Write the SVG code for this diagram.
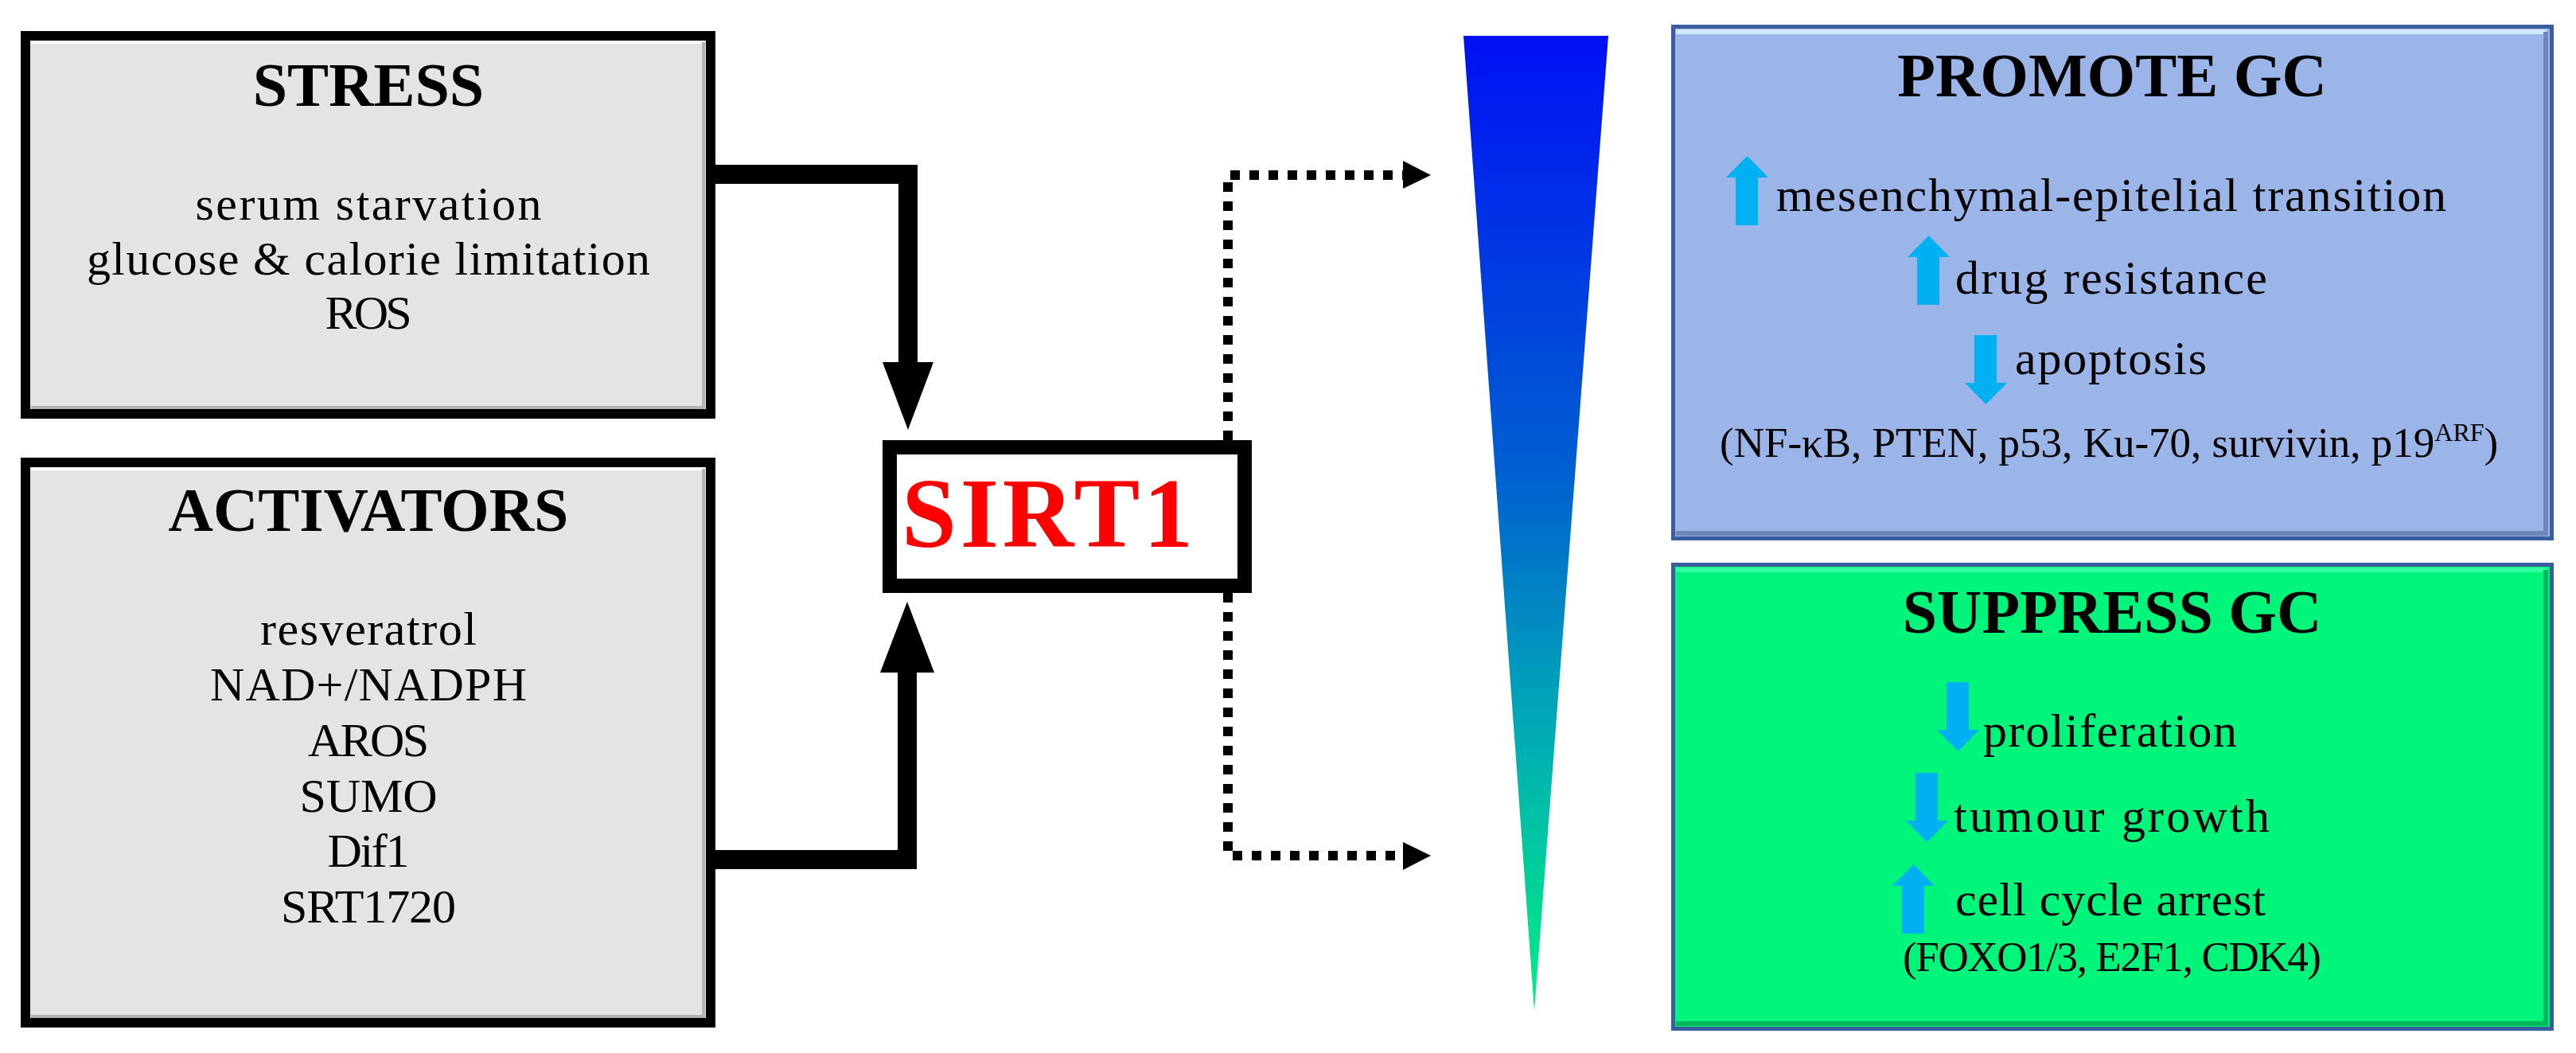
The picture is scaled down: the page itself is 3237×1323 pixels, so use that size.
<svg xmlns="http://www.w3.org/2000/svg" width="3237" height="1323" viewBox="0 0 3237 1323">
<style>
.t{font-family:"Liberation Serif","Times New Roman",serif;fill:#000}
.b{font-weight:bold}
.body{font-size:60px}
.title{font-size:78px;font-weight:bold}
.small{font-size:53px}
.dot{fill:none;stroke:#000;stroke-width:12;stroke-dasharray:12 12}
.thick{fill:none;stroke:#000;stroke-width:24;stroke-linejoin:miter}
</style>
<defs>
<linearGradient id="tri" gradientUnits="userSpaceOnUse" x1="0" y1="45" x2="0" y2="1270">
<stop offset="0" stop-color="#0010F5"/>
<stop offset="0.45" stop-color="#0060D0"/>
<stop offset="0.7" stop-color="#00A8B8"/>
<stop offset="1" stop-color="#00F080"/>
</linearGradient>
<path id="up" d="M26.5,0 L53,27 L40,27 L40,87 L12,87 L12,27 L0,27 Z" fill="#00B0F0"/>
<path id="down" d="M26.5,87 L53,60 L40,60 L40,0 L12,0 L12,60 L0,60 Z" fill="#00B0F0"/>
</defs>
<rect width="3237" height="1323" fill="#fff"/>

<g id="stress">
<rect x="32" y="45" width="861" height="475" fill="#E4E4E4" stroke="#000" stroke-width="12"/>
<path d="M39,53 H885" stroke="#fff" stroke-width="4" fill="none"/>
<path d="M884,53 V512 H39" stroke="#B4B4B4" stroke-width="4" fill="none"/>
<text class="t title" x="463" y="133" text-anchor="middle">STRESS</text>
<text class="t body" x="463" y="276" text-anchor="middle" textLength="435">serum starvation</text>
<text class="t body" x="463" y="345" text-anchor="middle" textLength="708">glucose &amp; calorie limitation</text>
<text class="t body" x="463" y="413" text-anchor="middle" textLength="109">ROS</text>
</g>

<g id="activators">
<rect x="32" y="581" width="861" height="704" fill="#E4E4E4" stroke="#000" stroke-width="12"/>
<path d="M39,589 H885" stroke="#fff" stroke-width="4" fill="none"/>
<path d="M884,589 V1277 H39" stroke="#B4B4B4" stroke-width="4" fill="none"/>
<text class="t title" x="463" y="667" text-anchor="middle">ACTIVATORS</text>
<text class="t body" x="463" y="810" text-anchor="middle" textLength="272">resveratrol</text>
<text class="t body" x="463" y="880" text-anchor="middle" textLength="398">NAD+/NADPH</text>
<text class="t body" x="463" y="950" text-anchor="middle" textLength="152">AROS</text>
<text class="t body" x="463" y="1020" text-anchor="middle" textLength="173">SUMO</text>
<text class="t body" x="463" y="1089" text-anchor="middle" textLength="103">Dif1</text>
<text class="t body" x="463" y="1159" text-anchor="middle" textLength="220">SRT1720</text>
</g>

<g id="sirt1">
<rect x="1118" y="562" width="446" height="174" fill="#fff" stroke="#000" stroke-width="18"/>
<text class="t b" x="1133" y="687" font-size="124" fill="#FF0000" style="fill:#FF0000" textLength="366">SIRT1</text>
</g>

<g id="gradient-bar">
<polygon points="1839,45 2021,45 1928,1270" fill="url(#tri)"/>
</g>

<g id="promote">
<rect x="2102.5" y="33.5" width="1104" height="643" fill="#9BB5E8" stroke="#3A5DA0" stroke-width="5"/>
<path d="M2106,40 H3200" stroke="#CDE8FF" stroke-width="6" fill="none"/>
<path d="M3199,40 V670 H2106" stroke="#6F85B5" stroke-width="6" fill="none"/>
<text class="t title" x="2654" y="121" text-anchor="middle">PROMOTE GC</text>
<use href="#up" x="2169" y="196"/>
<text class="t body" x="2232" y="265" textLength="842">mesenchymal-epitelial transition</text>
<use href="#up" x="2397" y="296"/>
<text class="t body" x="2457" y="369" textLength="392">drug resistance</text>
<use href="#down" x="2469" y="421"/>
<text class="t body" x="2532" y="470" textLength="241">apoptosis</text>
<text class="t small" x="2161" y="574">(NF-κB, PTEN, p53, Ku-70, survivin,  p19<tspan font-size="32" dy="-20">ARF</tspan><tspan dy="20">)</tspan></text>
</g>

<g id="suppress">
<rect x="2102.5" y="709.5" width="1104" height="583" fill="#00F57A" stroke="#3A5DA0" stroke-width="5"/>
<path d="M2106,716 H3200" stroke="#33FFA0" stroke-width="6" fill="none"/>
<path d="M3199,716 V1286 H2106" stroke="#00B85C" stroke-width="6" fill="none"/>
<text class="t title" x="2654" y="795" text-anchor="middle">SUPPRESS GC</text>
<use href="#down" x="2434" y="857"/>
<text class="t body" x="2492" y="938" textLength="319">proliferation</text>
<use href="#down" x="2395" y="971"/>
<text class="t body" x="2455" y="1045" textLength="397">tumour growth</text>
<use href="#up" x="2378" y="1086"/>
<text class="t body" x="2457" y="1150" textLength="390">cell cycle arrest</text>
<text class="t small" x="2391" y="1220" textLength="526">(FOXO1/3, E2F1, CDK4)</text>
</g>

<g id="connectors">
<path class="thick" d="M899,219 H1141 V460"/>
<polygon points="1109,455 1173,455 1141,540"/>
<path class="thick" d="M899,1080 H1140 V840"/>
<polygon points="1106,845 1174,845 1140,756"/>
<path class="dot" d="M1543,553 V220 H1763"/>
<polygon points="1763,202 1798,220 1763,237"/>
<path class="dot" d="M1543,745 V1075 H1763"/>
<polygon points="1763,1058 1798,1075 1763,1093"/>
</g>
</svg>
